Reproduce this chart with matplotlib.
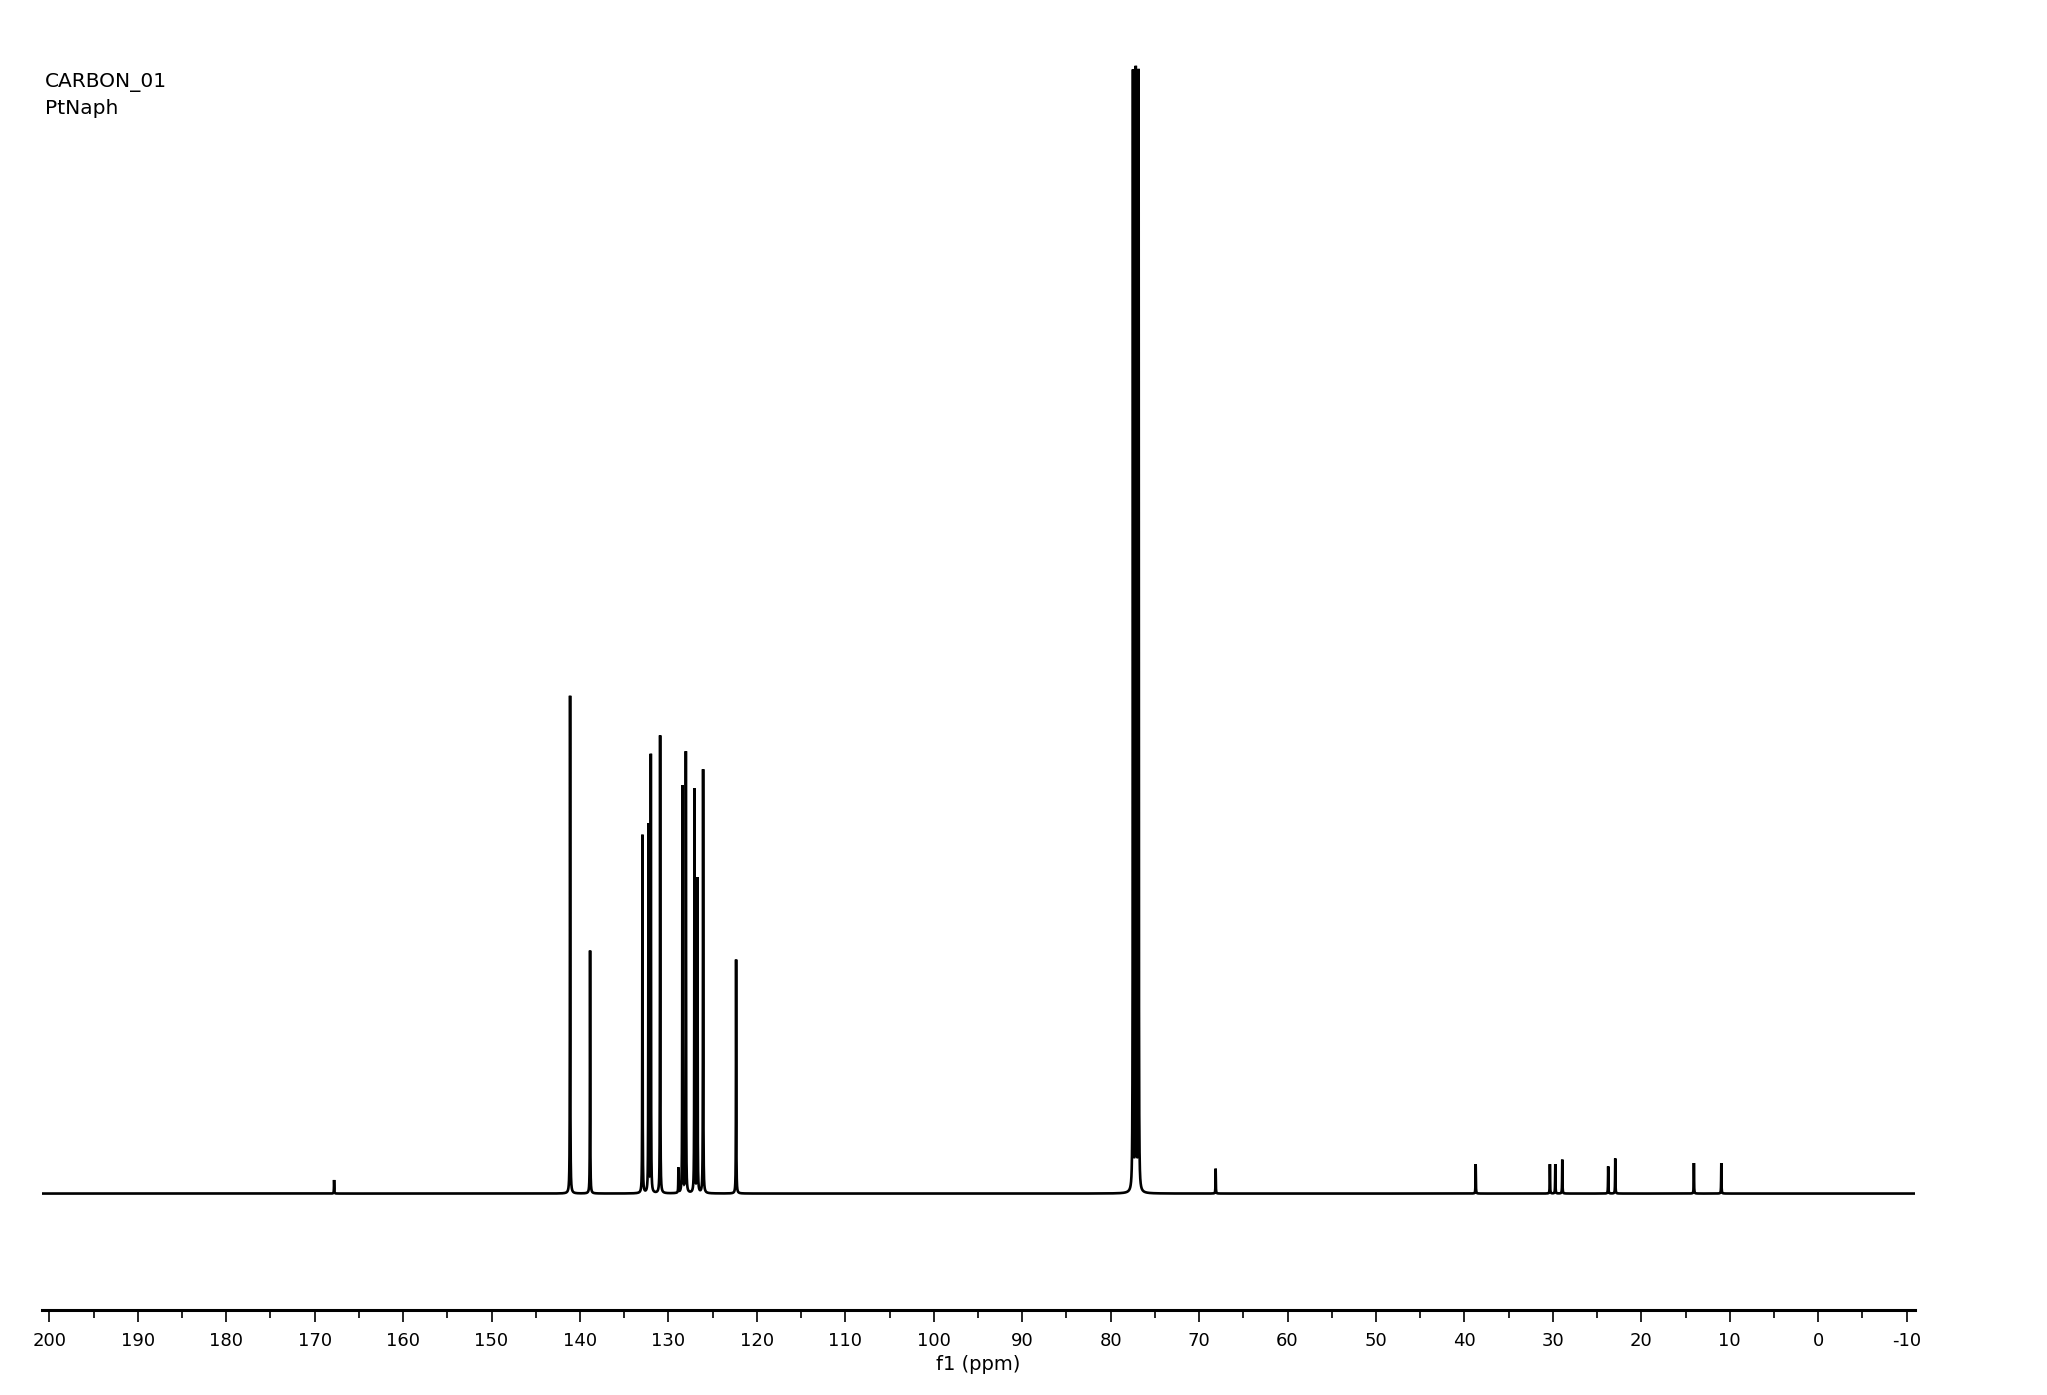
import matplotlib
matplotlib.use("Agg")
import matplotlib.pyplot as plt
from matplotlib.ticker import MultipleLocator, FormatStrFormatter
import numpy as np

plt.rcParams['font.family'] = ['DejaVu Sans']
plt.rcParams['axes.unicode_minus'] = False

# peak list (ppm, relative height; CDCl3 = 1)
solvent_ppm = [77.48, 77.16, 76.84]
solvent_h = [0.99, 0.99, 0.99]

aromatic_ppm = [167.8, 141.12, 138.86, 132.94, 132.26, 131.99, 130.94, 128.87,
                128.42, 128.03, 127.06, 126.72, 126.08, 122.35]
aromatic_h = [0.012, 0.4405, 0.215, 0.317, 0.325, 0.387, 0.405, 0.022,
              0.360, 0.390, 0.357, 0.278, 0.375, 0.207]

aliphatic_ppm = [68.13, 38.73, 30.34, 29.73, 28.94, 23.75, 22.95, 14.06, 10.96]
aliphatic_h = [0.022, 0.026, 0.026, 0.026, 0.030, 0.024, 0.031, 0.027, 0.027]

title_lines = ["CARBON_01", "PtNaph"]
x_label = "f1 (ppm)"
x_left, x_right = 200.86, -10.94
width_ppm = 0.02  # lorentzian half width

# build the spectrum trace from the peak list
ppm = np.linspace(x_left, x_right, 200000)
intensity = np.zeros_like(ppm)
for pos, h in zip(solvent_ppm + aromatic_ppm + aliphatic_ppm,
                  solvent_h + aromatic_h + aliphatic_h):
    intensity += h * width_ppm**2 / ((ppm - pos)**2 + width_ppm**2)

fig = plt.figure(figsize=(20.47, 13.95), dpi=100)
ax = fig.add_axes([41.7/2047, 1 - 1310/1395, (1915 - 41.7)/2047, (1310 - 40)/1395])

ax.plot(ppm, intensity, color='black', lw=1.9, solid_joinstyle='miter')

ax.set_xlim(x_left, x_right)
ax.set_ylim(-0.103, 1.0203)

for s in ['top', 'left', 'right']:
    ax.spines[s].set_visible(False)
ax.spines['bottom'].set_linewidth(2.2)
ax.set_yticks([])

ax.xaxis.set_major_locator(MultipleLocator(10))
ax.xaxis.set_minor_locator(MultipleLocator(5))
ax.xaxis.set_major_formatter(FormatStrFormatter('%d'))
ax.tick_params(axis='x', which='major', length=8.5, width=1.2, pad=7, labelsize=13)
ax.tick_params(axis='x', which='minor', length=5.5, width=1.2)
ax.set_xlabel(x_label, fontsize=14, labelpad=4)

fig.text(45/2047, 1 - 86.7/1395, title_lines[0], fontsize=14.5, va='baseline', ha='left')
fig.text(45/2047, 1 - 114/1395, title_lines[1], fontsize=14.5, va='baseline', ha='left')

fig.savefig("out.png", dpi=100)
